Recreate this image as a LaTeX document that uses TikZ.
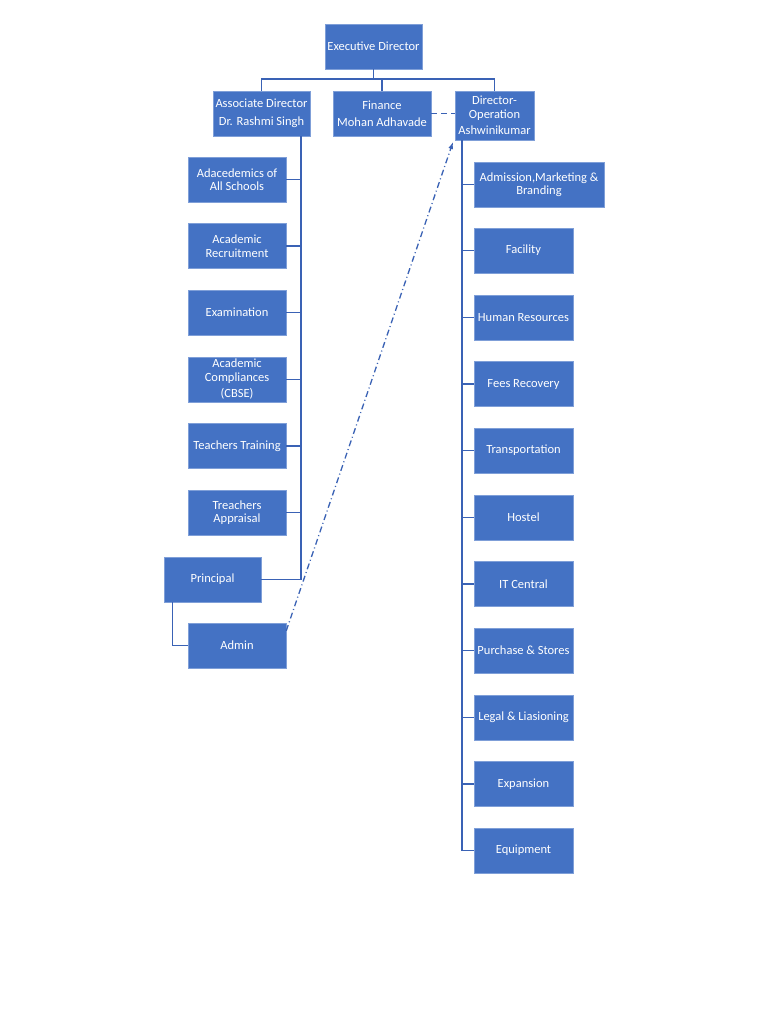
\documentclass[tikz,border=0pt]{standalone}
\usepackage{fontspec}
\setmainfont{Carlito}
\usetikzlibrary{arrows.meta}
\definecolor{boxblue}{HTML}{4472C4}
\definecolor{boxedge}{HTML}{7F9FD8}
\definecolor{linkblue}{HTML}{3A62B5}
\begin{document}
\begin{tikzpicture}[x=1pt,y=-1pt,
  box/.style={rectangle,fill=boxblue,draw=boxedge,line width=0.5pt,text=white,
    font=\fontsize{12.5}{13.5}\selectfont,align=center,inner sep=1pt},
  link/.style={draw=linkblue,line width=1.4pt}]
\useasboundingbox[fill=white] (0,0) rectangle (768,1024);
% top
\node[box,minimum width=97pt,minimum height=45pt] (ed) at (373.5,46.5) {Executive Director};
\node[box,minimum width=97pt,minimum height=45pt] (ad) at (261.5,113.5) {Associate Director\\[4pt]Dr. Rashmi Singh};
\node[box,minimum width=98pt,minimum height=45pt] (fin) at (382,113.5) {Finance\\[4pt]Mohan Adhavade};
\node[box,minimum width=79pt,minimum height=49pt] (dop) at (494.5,115.5) {Director-\\Operation\\[3pt]Ashwinikumar};
\coordinate (hb) at (373.5,79);
\draw[link] (ed.south) -- (hb);
\draw[link] (ad.north) |- (hb) -| (dop.north);
\draw[link] (fin.north) -- (fin.north |- hb);
\draw[link,dash pattern=on 6pt off 4pt] (fin.east) -- (fin.east -| dop.west);
% left column
\tikzset{lbox/.style={box,minimum width=98pt,minimum height=45pt}}
\node[lbox] (l1) at (237,179.5) {Adacedemics of\\All Schools};
\node[lbox] (l2) at (237,246) {Academic\\Recruitment};
\node[lbox] (l3) at (237,312.5) {Examination};
\node[lbox] (l4) at (237,379.5) {Academic\\Compliances\\[3pt](CBSE)};
\node[lbox] (l5) at (237,446) {Teachers Training};
\node[lbox] (l6) at (237,512.5) {Treachers\\Appraisal};
\node[box,minimum width=97pt,minimum height=45pt] (pr) at (212.5,579.5) {Principal};
\node[lbox] (adm) at (237,645.5) {Admin};
\coordinate (lv) at (301,579.5);
\draw[link] (ad.south -| lv) -- (lv) -- (pr.east);
\foreach \n in {l1,l2,l3,l4,l5,l6}{\draw[link] (\n.east) -- (\n.east -| lv);}
\coordinate (pa) at (172,645.5);
\draw[link,line width=1pt] (pr.south -| pa) -- (pa) -- (adm.west);
\coordinate (dopbl) at (453,142);
\draw[draw=linkblue,line width=1.3pt,dash pattern=on 6pt off 3pt on 1pt off 3pt,-{Latex[length=7pt,width=5pt]}] (adm.north east) ++(0,8) coordinate (admstart) -- (dopbl);
% right column
\tikzset{rbox/.style={box,minimum width=99pt,minimum height=45pt}}
\node[box,minimum width=130pt,minimum height=45pt] (r1) at (539,184.5) {Admission,Marketing \&\\Branding};
\node[rbox] (r2) at (523.5,250.5) {Facility};
\node[rbox] (r3) at (523.5,317.5) {Human Resources};
\node[rbox] (r4) at (523.5,384) {Fees Recovery};
\node[rbox] (r5) at (523.5,450.5) {Transportation};
\node[rbox] (r6) at (523.5,517.5) {Hostel};
\node[rbox] (r7) at (523.5,584) {IT Central};
\node[rbox] (r8) at (523.5,650.5) {Purchase \& Stores};
\node[rbox] (r9) at (523.5,717.5) {Legal \& Liasioning};
\node[rbox] (r10) at (523.5,784) {Expansion};
\node[rbox] (r11) at (523.5,850.5) {Equipment};
\coordinate (rv) at (462,850.5);
\draw[link] (dop.south -| rv) -- (rv) -- (r11.west);
\foreach \n in {r1,r2,r3,r4,r5,r6,r7,r8,r9,r10}{\draw[link] (\n.west) -- (\n.west -| rv);}
\end{tikzpicture}
\end{document}
